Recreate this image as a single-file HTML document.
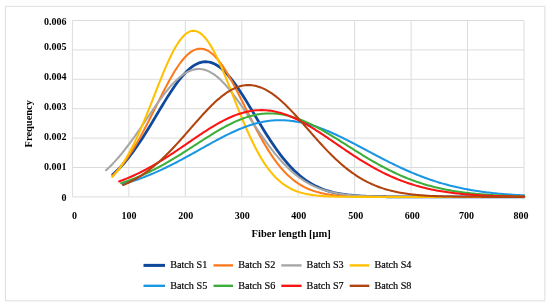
<!DOCTYPE html>
<html><head><meta charset="utf-8"><title>Fiber length distribution</title>
<style>html,body{margin:0;padding:0;background:#fff}body{width:550px;height:306px;position:relative;overflow:hidden}</style>
</head><body>
<svg width="550" height="306" viewBox="0 0 550 306" style="position:absolute;left:0;top:0">
<rect x="5.45" y="6.35" width="539.4" height="294.5" fill="#fff" stroke="#dedede" stroke-width="1"/>
<path d="M72.40,20.50V196.90M128.85,20.50V196.90M185.30,20.50V196.90M241.75,20.50V196.90M298.20,20.50V196.90M354.65,20.50V196.90M411.10,20.50V196.90M467.55,20.50V196.90M524.00,20.50V196.90M72.40,196.90H524.00M72.40,167.50H524.00M72.40,138.10H524.00M72.40,108.70H524.00M72.40,79.30H524.00M72.40,49.90H524.00M72.40,20.50H524.00" stroke="#dcdcdc" stroke-width="1" fill="none"/>
<path d="M112.76,174.46 L114.48,172.94 L116.19,171.34 L117.90,169.68 L119.62,167.93 L121.33,166.12 L123.04,164.23 L124.76,162.27 L126.47,160.23 L128.18,158.13 L129.90,155.95 L131.61,153.70 L133.32,151.39 L135.04,149.00 L136.75,146.56 L138.46,144.06 L140.18,141.50 L141.89,138.88 L143.60,136.22 L145.32,133.51 L147.03,130.76 L148.75,127.98 L150.46,125.17 L152.17,122.34 L153.89,119.49 L155.60,116.62 L157.31,113.76 L159.03,110.89 L160.74,108.04 L162.45,105.20 L164.17,102.39 L165.88,99.61 L167.59,96.87 L169.31,94.18 L171.02,91.55 L172.73,88.98 L174.45,86.49 L176.16,84.07 L177.87,81.75 L179.59,79.51 L181.30,77.39 L183.01,75.37 L184.73,73.47 L186.44,71.69 L188.16,70.04 L189.87,68.53 L191.58,67.16 L193.30,65.93 L195.01,64.85 L196.72,63.93 L198.44,63.16 L200.15,62.56 L201.86,62.12 L203.58,61.84 L205.29,61.72 L207.00,61.77 L208.72,61.99 L210.43,62.37 L212.14,62.91 L213.86,63.61 L215.57,64.48 L217.28,65.49 L219.00,66.66 L220.71,67.98 L222.43,69.44 L224.14,71.03 L225.85,72.76 L227.57,74.62 L229.28,76.59 L230.99,78.68 L232.71,80.87 L234.42,83.16 L236.13,85.54 L237.85,88.01 L239.56,90.55 L241.27,93.16 L242.99,95.83 L244.70,98.55 L246.41,101.31 L248.13,104.11 L249.84,106.94 L251.55,109.78 L253.27,112.65 L254.98,115.51 L256.70,118.38 L258.41,121.23 L260.12,124.08 L261.84,126.90 L263.55,129.69 L265.26,132.45 L266.98,135.18 L268.69,137.86 L270.40,140.49 L272.12,143.07 L273.83,145.60 L275.54,148.07 L277.26,150.47 L278.97,152.81 L280.68,155.09 L282.40,157.29 L284.11,159.43 L285.82,161.49 L287.54,163.48 L289.25,165.40 L290.96,167.24 L292.68,169.01 L294.39,170.71 L296.11,172.33 L297.82,173.88 L299.53,175.36 L301.25,176.77 L302.96,178.11 L304.67,179.38 L306.39,180.59 L308.10,181.73 L309.81,182.81 L311.53,183.82 L313.24,184.78 L314.95,185.69 L316.67,186.53 L318.38,187.33 L320.09,188.07 L321.81,188.77 L323.52,189.42 L325.23,190.03 L326.95,190.60 L328.66,191.12 L330.38,191.61 L332.09,192.07 L333.80,192.49 L335.52,192.87 L337.23,193.23 L338.94,193.56 L340.66,193.87 L342.37,194.15 L344.08,194.41 L345.80,194.64 L347.51,194.86 L349.22,195.06 L350.94,195.24 L352.65,195.40 L354.36,195.55 L356.08,195.69 L357.79,195.81 L359.50,195.92 L361.22,196.03 L362.93,196.12 L364.65,196.20 L366.36,196.28 L368.07,196.35 L369.79,196.41 L371.50,196.46 L373.21,196.51 L374.93,196.55 L376.64,196.59 L378.35,196.63 L380.07,196.66 L381.78,196.69 L383.49,196.71 L385.21,196.74 L386.92,196.76 L388.63,196.77 L390.35,196.79 L392.06,196.80 L393.77,196.82 L395.49,196.83 L397.20,196.84 L398.92,196.84 L400.63,196.85 L402.34,196.86 L404.06,196.86 L405.77,196.87 L407.48,196.87 L409.20,196.88 L410.91,196.88 L412.62,196.88 L414.34,196.88 L416.05,196.89 L417.76,196.89 L419.48,196.89 L421.19,196.89 L422.90,196.89 L424.62,196.89 L426.33,196.89 L428.04,196.90 L429.76,196.90 L431.47,196.90 L433.18,196.90 L434.90,196.90 L436.61,196.90 L438.33,196.90 L440.04,196.90 L441.75,196.90 L443.47,196.90 L445.18,196.90 L446.89,196.90 L448.61,196.90 L450.32,196.90 L452.03,196.90 L453.75,196.90 L455.46,196.90 L457.17,196.90 L458.89,196.90 L460.60,196.90 L462.31,196.90 L464.03,196.90 L465.74,196.90 L467.45,196.90 L469.17,196.90 L470.88,196.90 L472.60,196.90 L474.31,196.90 L476.02,196.90 L477.74,196.90 L479.45,196.90 L481.16,196.90 L482.88,196.90 L484.59,196.90 L486.30,196.90 L488.02,196.90 L489.73,196.90 L491.44,196.90 L493.16,196.90 L494.87,196.90 L496.58,196.90 L498.30,196.90 L500.01,196.90 L501.72,196.90 L503.44,196.90 L505.15,196.90 L506.87,196.90 L508.58,196.90 L510.29,196.90 L512.01,196.90 L513.72,196.90 L515.43,196.90 L517.15,196.90 L518.86,196.90 L520.57,196.90 L522.29,196.90 L524.00,196.90" stroke="#10499b" stroke-width="2.75" fill="none" stroke-linecap="round" stroke-linejoin="round"/>
<path d="M112.48,175.54 L114.19,173.88 L115.91,172.13 L117.62,170.29 L119.34,168.34 L121.05,166.31 L122.77,164.17 L124.48,161.94 L126.20,159.61 L127.91,157.18 L129.63,154.66 L131.34,152.04 L133.06,149.33 L134.77,146.53 L136.48,143.65 L138.20,140.68 L139.91,137.64 L141.63,134.52 L143.34,131.34 L145.06,128.09 L146.77,124.79 L148.49,121.45 L150.20,118.06 L151.92,114.65 L153.63,111.21 L155.35,107.76 L157.06,104.31 L158.78,100.87 L160.49,97.44 L162.20,94.05 L163.92,90.70 L165.63,87.39 L167.35,84.16 L169.06,80.99 L170.78,77.92 L172.49,74.94 L174.21,72.07 L175.92,69.33 L177.64,66.71 L179.35,64.24 L181.07,61.92 L182.78,59.76 L184.50,57.77 L186.21,55.96 L187.92,54.34 L189.64,52.91 L191.35,51.69 L193.07,50.66 L194.78,49.85 L196.50,49.25 L198.21,48.87 L199.93,48.70 L201.64,48.75 L203.36,49.03 L205.07,49.51 L206.79,50.22 L208.50,51.13 L210.22,52.25 L211.93,53.58 L213.64,55.10 L215.36,56.81 L217.07,58.71 L218.79,60.78 L220.50,63.02 L222.22,65.41 L223.93,67.95 L225.65,70.63 L227.36,73.44 L229.08,76.36 L230.79,79.39 L232.51,82.51 L234.22,85.71 L235.94,88.98 L237.65,92.30 L239.36,95.68 L241.08,99.09 L242.79,102.52 L244.51,105.97 L246.22,109.42 L247.94,112.87 L249.65,116.30 L251.37,119.70 L253.08,123.06 L254.80,126.39 L256.51,129.66 L258.23,132.88 L259.94,136.03 L261.66,139.11 L263.37,142.12 L265.09,145.05 L266.80,147.89 L268.51,150.65 L270.23,153.31 L271.94,155.88 L273.66,158.36 L275.37,160.74 L277.09,163.02 L278.80,165.21 L280.52,167.30 L282.23,169.29 L283.95,171.19 L285.66,172.99 L287.38,174.70 L289.09,176.31 L290.81,177.84 L292.52,179.28 L294.23,180.63 L295.95,181.90 L297.66,183.10 L299.38,184.22 L301.09,185.26 L302.81,186.23 L304.52,187.14 L306.24,187.98 L307.95,188.76 L309.67,189.49 L311.38,190.16 L313.10,190.78 L314.81,191.35 L316.53,191.87 L318.24,192.35 L319.95,192.79 L321.67,193.20 L323.38,193.57 L325.10,193.90 L326.81,194.21 L328.53,194.49 L330.24,194.74 L331.96,194.97 L333.67,195.18 L335.39,195.37 L337.10,195.54 L338.82,195.69 L340.53,195.83 L342.25,195.95 L343.96,196.06 L345.67,196.16 L347.39,196.24 L349.10,196.32 L350.82,196.39 L352.53,196.45 L354.25,196.51 L355.96,196.56 L357.68,196.60 L359.39,196.64 L361.11,196.67 L362.82,196.70 L364.54,196.73 L366.25,196.75 L367.97,196.77 L369.68,196.79 L371.39,196.80 L373.11,196.82 L374.82,196.83 L376.54,196.84 L378.25,196.85 L379.97,196.85 L381.68,196.86 L383.40,196.87 L385.11,196.87 L386.83,196.88 L388.54,196.88 L390.26,196.88 L391.97,196.89 L393.69,196.89 L395.40,196.89 L397.11,196.89 L398.83,196.89 L400.54,196.89 L402.26,196.89 L403.97,196.90 L405.69,196.90 L407.40,196.90 L409.12,196.90 L410.83,196.90 L412.55,196.90 L414.26,196.90 L415.98,196.90 L417.69,196.90 L419.41,196.90 L421.12,196.90 L422.83,196.90 L424.55,196.90 L426.26,196.90 L427.98,196.90 L429.69,196.90 L431.41,196.90 L433.12,196.90 L434.84,196.90 L436.55,196.90 L438.27,196.90 L439.98,196.90 L441.70,196.90 L443.41,196.90 L445.13,196.90 L446.84,196.90 L448.55,196.90 L450.27,196.90 L451.98,196.90 L453.70,196.90 L455.41,196.90 L457.13,196.90 L458.84,196.90 L460.56,196.90 L462.27,196.90 L463.99,196.90 L465.70,196.90 L467.42,196.90 L469.13,196.90 L470.85,196.90 L472.56,196.90 L474.27,196.90 L475.99,196.90 L477.70,196.90 L479.42,196.90 L481.13,196.90 L482.85,196.90 L484.56,196.90 L486.28,196.90 L487.99,196.90 L489.71,196.90 L491.42,196.90 L493.14,196.90 L494.85,196.90 L496.57,196.90 L498.28,196.90 L499.99,196.90 L501.71,196.90 L503.42,196.90 L505.14,196.90 L506.85,196.90 L508.57,196.90 L510.28,196.90 L512.00,196.90 L513.71,196.90 L515.43,196.90 L517.14,196.90 L518.86,196.90 L520.57,196.90 L522.29,196.90 L524.00,196.90" stroke="#fb7a1e" stroke-width="2.05" fill="none" stroke-linecap="round" stroke-linejoin="round"/>
<path d="M106.04,170.22 L107.79,168.62 L109.53,166.95 L111.27,165.23 L113.01,163.44 L114.75,161.58 L116.49,159.67 L118.23,157.70 L119.98,155.66 L121.72,153.57 L123.46,151.42 L125.20,149.22 L126.94,146.97 L128.68,144.67 L130.42,142.33 L132.17,139.94 L133.91,137.51 L135.65,135.05 L137.39,132.55 L139.13,130.03 L140.87,127.49 L142.62,124.93 L144.36,122.36 L146.10,119.79 L147.84,117.21 L149.58,114.63 L151.32,112.07 L153.06,109.53 L154.81,107.00 L156.55,104.51 L158.29,102.05 L160.03,99.64 L161.77,97.27 L163.51,94.96 L165.25,92.71 L167.00,90.52 L168.74,88.42 L170.48,86.39 L172.22,84.45 L173.96,82.60 L175.70,80.85 L177.44,79.20 L179.19,77.66 L180.93,76.23 L182.67,74.93 L184.41,73.74 L186.15,72.68 L187.89,71.75 L189.64,70.95 L191.38,70.28 L193.12,69.76 L194.86,69.37 L196.60,69.12 L198.34,69.01 L200.08,69.05 L201.83,69.23 L203.57,69.55 L205.31,70.02 L207.05,70.63 L208.79,71.37 L210.53,72.26 L212.27,73.28 L214.02,74.42 L215.76,75.70 L217.50,77.09 L219.24,78.61 L220.98,80.24 L222.72,81.97 L224.47,83.81 L226.21,85.74 L227.95,87.77 L229.69,89.88 L231.43,92.07 L233.17,94.32 L234.91,96.65 L236.66,99.03 L238.40,101.46 L240.14,103.94 L241.88,106.46 L243.62,109.00 L245.36,111.58 L247.10,114.17 L248.85,116.77 L250.59,119.38 L252.33,121.99 L254.07,124.59 L255.81,127.18 L257.55,129.75 L259.29,132.31 L261.04,134.83 L262.78,137.33 L264.52,139.79 L266.26,142.21 L268.00,144.58 L269.74,146.91 L271.49,149.19 L273.23,151.42 L274.97,153.59 L276.71,155.71 L278.45,157.76 L280.19,159.76 L281.93,161.69 L283.68,163.56 L285.42,165.37 L287.16,167.11 L288.90,168.79 L290.64,170.40 L292.38,171.95 L294.12,173.44 L295.87,174.86 L297.61,176.22 L299.35,177.52 L301.09,178.75 L302.83,179.93 L304.57,181.05 L306.31,182.11 L308.06,183.12 L309.80,184.07 L311.54,184.97 L313.28,185.82 L315.02,186.62 L316.76,187.37 L318.51,188.08 L320.25,188.75 L321.99,189.37 L323.73,189.95 L325.47,190.50 L327.21,191.01 L328.95,191.48 L330.70,191.92 L332.44,192.34 L334.18,192.72 L335.92,193.07 L337.66,193.40 L339.40,193.70 L341.14,193.98 L342.89,194.24 L344.63,194.48 L346.37,194.70 L348.11,194.90 L349.85,195.09 L351.59,195.26 L353.33,195.42 L355.08,195.56 L356.82,195.69 L358.56,195.81 L360.30,195.92 L362.04,196.01 L363.78,196.10 L365.53,196.19 L367.27,196.26 L369.01,196.33 L370.75,196.39 L372.49,196.44 L374.23,196.49 L375.97,196.53 L377.72,196.57 L379.46,196.61 L381.20,196.64 L382.94,196.67 L384.68,196.70 L386.42,196.72 L388.16,196.74 L389.91,196.76 L391.65,196.78 L393.39,196.79 L395.13,196.80 L396.87,196.82 L398.61,196.83 L400.35,196.83 L402.10,196.84 L403.84,196.85 L405.58,196.86 L407.32,196.86 L409.06,196.87 L410.80,196.87 L412.55,196.87 L414.29,196.88 L416.03,196.88 L417.77,196.88 L419.51,196.89 L421.25,196.89 L422.99,196.89 L424.74,196.89 L426.48,196.89 L428.22,196.89 L429.96,196.89 L431.70,196.89 L433.44,196.90 L435.18,196.90 L436.93,196.90 L438.67,196.90 L440.41,196.90 L442.15,196.90 L443.89,196.90 L445.63,196.90 L447.37,196.90 L449.12,196.90 L450.86,196.90 L452.60,196.90 L454.34,196.90 L456.08,196.90 L457.82,196.90 L459.57,196.90 L461.31,196.90 L463.05,196.90 L464.79,196.90 L466.53,196.90 L468.27,196.90 L470.01,196.90 L471.76,196.90 L473.50,196.90 L475.24,196.90 L476.98,196.90 L478.72,196.90 L480.46,196.90 L482.20,196.90 L483.95,196.90 L485.69,196.90 L487.43,196.90 L489.17,196.90 L490.91,196.90 L492.65,196.90 L494.39,196.90 L496.14,196.90 L497.88,196.90 L499.62,196.90 L501.36,196.90 L503.10,196.90 L504.84,196.90 L506.59,196.90 L508.33,196.90 L510.07,196.90 L511.81,196.90 L513.55,196.90 L515.29,196.90 L517.03,196.90 L518.78,196.90 L520.52,196.90 L522.26,196.90 L524.00,196.90" stroke="#a6a6a6" stroke-width="2.05" fill="none" stroke-linecap="round" stroke-linejoin="round"/>
<path d="M112.25,176.94 L113.97,175.09 L115.68,173.12 L117.40,171.02 L119.12,168.78 L120.83,166.41 L122.55,163.90 L124.26,161.25 L125.98,158.46 L127.69,155.53 L129.41,152.46 L131.13,149.25 L132.84,145.91 L134.56,142.44 L136.27,138.84 L137.99,135.12 L139.70,131.29 L141.42,127.35 L143.13,123.31 L144.85,119.18 L146.57,114.98 L148.28,110.72 L150.00,106.40 L151.71,102.05 L153.43,97.68 L155.14,93.30 L156.86,88.93 L158.58,84.59 L160.29,80.29 L162.01,76.06 L163.72,71.92 L165.44,67.87 L167.15,63.95 L168.87,60.16 L170.58,56.54 L172.30,53.09 L174.02,49.83 L175.73,46.78 L177.45,43.96 L179.16,41.38 L180.88,39.06 L182.59,37.00 L184.31,35.22 L186.02,33.73 L187.74,32.54 L189.46,31.65 L191.17,31.08 L192.89,30.81 L194.60,30.86 L196.32,31.21 L198.03,31.88 L199.75,32.85 L201.47,34.11 L203.18,35.67 L204.90,37.52 L206.61,39.63 L208.33,42.01 L210.04,44.64 L211.76,47.50 L213.47,50.58 L215.19,53.87 L216.91,57.34 L218.62,60.98 L220.34,64.78 L222.05,68.71 L223.77,72.75 L225.48,76.89 L227.20,81.11 L228.92,85.39 L230.63,89.71 L232.35,94.06 L234.06,98.41 L235.78,102.76 L237.49,107.08 L239.21,111.37 L240.92,115.60 L242.64,119.77 L244.36,123.86 L246.07,127.86 L247.79,131.76 L249.50,135.56 L251.22,139.25 L252.93,142.81 L254.65,146.25 L256.36,149.56 L258.08,152.74 L259.80,155.78 L261.51,158.68 L263.23,161.44 L264.94,164.07 L266.66,166.55 L268.37,168.90 L270.09,171.12 L271.81,173.21 L273.52,175.17 L275.24,177.00 L276.95,178.71 L278.67,180.31 L280.38,181.79 L282.10,183.17 L283.81,184.45 L285.53,185.62 L287.25,186.71 L288.96,187.71 L290.68,188.62 L292.39,189.46 L294.11,190.23 L295.82,190.93 L297.54,191.56 L299.26,192.14 L300.97,192.66 L302.69,193.13 L304.40,193.56 L306.12,193.94 L307.83,194.28 L309.55,194.59 L311.26,194.87 L312.98,195.12 L314.70,195.33 L316.41,195.53 L318.13,195.70 L319.84,195.86 L321.56,195.99 L323.27,196.11 L324.99,196.21 L326.70,196.31 L328.42,196.39 L330.14,196.46 L331.85,196.52 L333.57,196.57 L335.28,196.62 L337.00,196.66 L338.71,196.69 L340.43,196.72 L342.15,196.75 L343.86,196.77 L345.58,196.79 L347.29,196.81 L349.01,196.82 L350.72,196.84 L352.44,196.85 L354.15,196.85 L355.87,196.86 L357.59,196.87 L359.30,196.87 L361.02,196.88 L362.73,196.88 L364.45,196.88 L366.16,196.89 L367.88,196.89 L369.60,196.89 L371.31,196.89 L373.03,196.89 L374.74,196.90 L376.46,196.90 L378.17,196.90 L379.89,196.90 L381.60,196.90 L383.32,196.90 L385.04,196.90 L386.75,196.90 L388.47,196.90 L390.18,196.90 L391.90,196.90 L393.61,196.90 L395.33,196.90 L397.04,196.90 L398.76,196.90 L400.48,196.90 L402.19,196.90 L403.91,196.90 L405.62,196.90 L407.34,196.90 L409.05,196.90 L410.77,196.90 L412.49,196.90 L414.20,196.90 L415.92,196.90 L417.63,196.90 L419.35,196.90 L421.06,196.90 L422.78,196.90 L424.49,196.90 L426.21,196.90 L427.93,196.90 L429.64,196.90 L431.36,196.90 L433.07,196.90 L434.79,196.90 L436.50,196.90 L438.22,196.90 L439.94,196.90 L441.65,196.90 L443.37,196.90 L445.08,196.90 L446.80,196.90 L448.51,196.90 L450.23,196.90 L451.94,196.90 L453.66,196.90 L455.38,196.90 L457.09,196.90 L458.81,196.90 L460.52,196.90 L462.24,196.90 L463.95,196.90 L465.67,196.90 L467.38,196.90 L469.10,196.90 L470.82,196.90 L472.53,196.90 L474.25,196.90 L475.96,196.90 L477.68,196.90 L479.39,196.90 L481.11,196.90 L482.83,196.90 L484.54,196.90 L486.26,196.90 L487.97,196.90 L489.69,196.90 L491.40,196.90 L493.12,196.90 L494.83,196.90 L496.55,196.90 L498.27,196.90 L499.98,196.90 L501.70,196.90 L503.41,196.90 L505.13,196.90 L506.84,196.90 L508.56,196.90 L510.28,196.90 L511.99,196.90 L513.71,196.90 L515.42,196.90 L517.14,196.90 L518.85,196.90 L520.57,196.90 L522.28,196.90 L524.00,196.90" stroke="#ffc000" stroke-width="2.05" fill="none" stroke-linecap="round" stroke-linejoin="round"/>
<path d="M122.64,184.19 L124.31,183.72 L125.99,183.23 L127.66,182.73 L129.33,182.21 L131.00,181.69 L132.67,181.14 L134.35,180.59 L136.02,180.02 L137.69,179.44 L139.36,178.85 L141.04,178.24 L142.71,177.61 L144.38,176.98 L146.05,176.33 L147.73,175.66 L149.40,174.99 L151.07,174.30 L152.74,173.59 L154.41,172.88 L156.09,172.15 L157.76,171.41 L159.43,170.65 L161.10,169.88 L162.78,169.11 L164.45,168.31 L166.12,167.51 L167.79,166.70 L169.47,165.87 L171.14,165.04 L172.81,164.19 L174.48,163.33 L176.16,162.47 L177.83,161.59 L179.50,160.71 L181.17,159.82 L182.84,158.92 L184.52,158.02 L186.19,157.11 L187.86,156.19 L189.53,155.27 L191.21,154.34 L192.88,153.41 L194.55,152.48 L196.22,151.54 L197.90,150.60 L199.57,149.66 L201.24,148.72 L202.91,147.78 L204.58,146.85 L206.26,145.91 L207.93,144.98 L209.60,144.05 L211.27,143.13 L212.95,142.21 L214.62,141.30 L216.29,140.40 L217.96,139.50 L219.64,138.62 L221.31,137.74 L222.98,136.88 L224.65,136.02 L226.33,135.19 L228.00,134.36 L229.67,133.55 L231.34,132.75 L233.01,131.98 L234.69,131.21 L236.36,130.47 L238.03,129.75 L239.70,129.05 L241.38,128.37 L243.05,127.71 L244.72,127.07 L246.39,126.46 L248.07,125.87 L249.74,125.31 L251.41,124.77 L253.08,124.26 L254.75,123.77 L256.43,123.32 L258.10,122.89 L259.77,122.50 L261.44,122.13 L263.12,121.79 L264.79,121.49 L266.46,121.21 L268.13,120.97 L269.81,120.76 L271.48,120.58 L273.15,120.44 L274.82,120.33 L276.49,120.25 L278.17,120.21 L279.84,120.20 L281.51,120.22 L283.18,120.26 L284.86,120.34 L286.53,120.44 L288.20,120.57 L289.87,120.73 L291.55,120.92 L293.22,121.14 L294.89,121.38 L296.56,121.65 L298.24,121.94 L299.91,122.26 L301.58,122.61 L303.25,122.98 L304.92,123.38 L306.60,123.81 L308.27,124.25 L309.94,124.72 L311.61,125.22 L313.29,125.74 L314.96,126.27 L316.63,126.84 L318.30,127.42 L319.98,128.02 L321.65,128.64 L323.32,129.29 L324.99,129.95 L326.66,130.62 L328.34,131.32 L330.01,132.03 L331.68,132.76 L333.35,133.50 L335.03,134.26 L336.70,135.03 L338.37,135.82 L340.04,136.61 L341.72,137.42 L343.39,138.24 L345.06,139.07 L346.73,139.91 L348.41,140.75 L350.08,141.61 L351.75,142.47 L353.42,143.33 L355.09,144.21 L356.77,145.09 L358.44,145.97 L360.11,146.85 L361.78,147.74 L363.46,148.63 L365.13,149.52 L366.80,150.41 L368.47,151.31 L370.15,152.20 L371.82,153.09 L373.49,153.98 L375.16,154.86 L376.83,155.74 L378.51,156.62 L380.18,157.50 L381.85,158.37 L383.52,159.23 L385.20,160.09 L386.87,160.94 L388.54,161.79 L390.21,162.62 L391.89,163.45 L393.56,164.28 L395.23,165.09 L396.90,165.89 L398.58,166.69 L400.25,167.48 L401.92,168.25 L403.59,169.02 L405.26,169.77 L406.94,170.52 L408.61,171.25 L410.28,171.97 L411.95,172.68 L413.63,173.38 L415.30,174.07 L416.97,174.75 L418.64,175.41 L420.32,176.06 L421.99,176.70 L423.66,177.33 L425.33,177.94 L427.00,178.54 L428.68,179.13 L430.35,179.71 L432.02,180.27 L433.69,180.82 L435.37,181.36 L437.04,181.89 L438.71,182.40 L440.38,182.90 L442.06,183.39 L443.73,183.87 L445.40,184.33 L447.07,184.78 L448.75,185.23 L450.42,185.65 L452.09,186.07 L453.76,186.48 L455.43,186.87 L457.11,187.25 L458.78,187.62 L460.45,187.98 L462.12,188.33 L463.80,188.67 L465.47,189.00 L467.14,189.32 L468.81,189.62 L470.49,189.92 L472.16,190.21 L473.83,190.49 L475.50,190.76 L477.17,191.02 L478.85,191.27 L480.52,191.51 L482.19,191.75 L483.86,191.97 L485.54,192.19 L487.21,192.40 L488.88,192.60 L490.55,192.79 L492.23,192.98 L493.90,193.16 L495.57,193.33 L497.24,193.50 L498.92,193.66 L500.59,193.81 L502.26,193.96 L503.93,194.10 L505.60,194.24 L507.28,194.37 L508.95,194.49 L510.62,194.61 L512.29,194.72 L513.97,194.83 L515.64,194.94 L517.31,195.04 L518.98,195.13 L520.66,195.22 L522.33,195.31 L524.00,195.39" stroke="#1b96e2" stroke-width="2.05" fill="none" stroke-linecap="round" stroke-linejoin="round"/>
<path d="M121.12,183.18 L122.80,182.64 L124.47,182.08 L126.15,181.51 L127.83,180.92 L129.51,180.32 L131.19,179.70 L132.87,179.06 L134.55,178.40 L136.22,177.73 L137.90,177.05 L139.58,176.34 L141.26,175.62 L142.94,174.89 L144.62,174.13 L146.30,173.36 L147.98,172.58 L149.65,171.77 L151.33,170.95 L153.01,170.12 L154.69,169.27 L156.37,168.40 L158.05,167.52 L159.73,166.62 L161.40,165.71 L163.08,164.78 L164.76,163.84 L166.44,162.89 L168.12,161.92 L169.80,160.94 L171.48,159.95 L173.16,158.95 L174.83,157.94 L176.51,156.91 L178.19,155.88 L179.87,154.84 L181.55,153.78 L183.23,152.73 L184.91,151.66 L186.58,150.59 L188.26,149.51 L189.94,148.43 L191.62,147.35 L193.30,146.26 L194.98,145.18 L196.66,144.09 L198.34,143.00 L200.01,141.92 L201.69,140.84 L203.37,139.76 L205.05,138.69 L206.73,137.62 L208.41,136.56 L210.09,135.51 L211.77,134.47 L213.44,133.45 L215.12,132.43 L216.80,131.43 L218.48,130.44 L220.16,129.47 L221.84,128.51 L223.52,127.58 L225.19,126.66 L226.87,125.77 L228.55,124.89 L230.23,124.04 L231.91,123.22 L233.59,122.42 L235.27,121.65 L236.95,120.91 L238.62,120.19 L240.30,119.51 L241.98,118.86 L243.66,118.24 L245.34,117.65 L247.02,117.10 L248.70,116.58 L250.37,116.10 L252.05,115.66 L253.73,115.25 L255.41,114.88 L257.09,114.56 L258.77,114.27 L260.45,114.02 L262.13,113.82 L263.80,113.65 L265.48,113.53 L267.16,113.45 L268.84,113.41 L270.52,113.41 L272.20,113.45 L273.88,113.53 L275.56,113.65 L277.23,113.81 L278.91,114.00 L280.59,114.23 L282.27,114.50 L283.95,114.81 L285.63,115.15 L287.31,115.53 L288.98,115.94 L290.66,116.39 L292.34,116.87 L294.02,117.38 L295.70,117.93 L297.38,118.50 L299.06,119.11 L300.74,119.75 L302.41,120.42 L304.09,121.11 L305.77,121.84 L307.45,122.59 L309.13,123.36 L310.81,124.16 L312.49,124.99 L314.16,125.83 L315.84,126.70 L317.52,127.59 L319.20,128.49 L320.88,129.42 L322.56,130.36 L324.24,131.32 L325.92,132.29 L327.59,133.27 L329.27,134.27 L330.95,135.28 L332.63,136.30 L334.31,137.33 L335.99,138.37 L337.67,139.42 L339.34,140.47 L341.02,141.52 L342.70,142.58 L344.38,143.65 L346.06,144.71 L347.74,145.78 L349.42,146.84 L351.10,147.91 L352.77,148.97 L354.45,150.03 L356.13,151.09 L357.81,152.14 L359.49,153.18 L361.17,154.22 L362.85,155.26 L364.53,156.28 L366.20,157.30 L367.88,158.31 L369.56,159.31 L371.24,160.30 L372.92,161.28 L374.60,162.24 L376.28,163.20 L377.95,164.14 L379.63,165.07 L381.31,165.99 L382.99,166.89 L384.67,167.78 L386.35,168.65 L388.03,169.51 L389.71,170.36 L391.38,171.18 L393.06,172.00 L394.74,172.80 L396.42,173.58 L398.10,174.35 L399.78,175.10 L401.46,175.83 L403.13,176.55 L404.81,177.25 L406.49,177.93 L408.17,178.60 L409.85,179.26 L411.53,179.89 L413.21,180.51 L414.89,181.12 L416.56,181.71 L418.24,182.28 L419.92,182.83 L421.60,183.38 L423.28,183.90 L424.96,184.41 L426.64,184.91 L428.32,185.39 L429.99,185.85 L431.67,186.30 L433.35,186.74 L435.03,187.16 L436.71,187.57 L438.39,187.97 L440.07,188.35 L441.74,188.72 L443.42,189.07 L445.10,189.42 L446.78,189.75 L448.46,190.07 L450.14,190.38 L451.82,190.67 L453.50,190.96 L455.17,191.23 L456.85,191.50 L458.53,191.75 L460.21,191.99 L461.89,192.23 L463.57,192.45 L465.25,192.67 L466.92,192.88 L468.60,193.07 L470.28,193.26 L471.96,193.45 L473.64,193.62 L475.32,193.79 L477.00,193.95 L478.68,194.10 L480.35,194.24 L482.03,194.38 L483.71,194.51 L485.39,194.64 L487.07,194.76 L488.75,194.88 L490.43,194.99 L492.11,195.09 L493.78,195.19 L495.46,195.28 L497.14,195.37 L498.82,195.46 L500.50,195.54 L502.18,195.62 L503.86,195.69 L505.53,195.76 L507.21,195.83 L508.89,195.89 L510.57,195.95 L512.25,196.00 L513.93,196.06 L515.61,196.11 L517.29,196.15 L518.96,196.20 L520.64,196.24 L522.32,196.28 L524.00,196.32" stroke="#3aae38" stroke-width="2.05" fill="none" stroke-linecap="round" stroke-linejoin="round"/>
<path d="M119.14,181.43 L120.83,180.81 L122.51,180.17 L124.20,179.52 L125.89,178.84 L127.58,178.15 L129.26,177.45 L130.95,176.72 L132.64,175.97 L134.32,175.21 L136.01,174.43 L137.70,173.63 L139.38,172.81 L141.07,171.97 L142.76,171.12 L144.44,170.24 L146.13,169.35 L147.82,168.45 L149.51,167.52 L151.19,166.58 L152.88,165.62 L154.57,164.65 L156.25,163.66 L157.94,162.66 L159.63,161.64 L161.31,160.60 L163.00,159.56 L164.69,158.50 L166.37,157.42 L168.06,156.34 L169.75,155.25 L171.43,154.14 L173.12,153.03 L174.81,151.90 L176.50,150.77 L178.18,149.63 L179.87,148.49 L181.56,147.34 L183.24,146.19 L184.93,145.03 L186.62,143.87 L188.30,142.72 L189.99,141.56 L191.68,140.40 L193.36,139.25 L195.05,138.10 L196.74,136.96 L198.43,135.82 L200.11,134.69 L201.80,133.57 L203.49,132.46 L205.17,131.36 L206.86,130.28 L208.55,129.21 L210.23,128.15 L211.92,127.12 L213.61,126.10 L215.29,125.10 L216.98,124.12 L218.67,123.17 L220.36,122.24 L222.04,121.34 L223.73,120.46 L225.42,119.61 L227.10,118.79 L228.79,118.00 L230.48,117.24 L232.16,116.51 L233.85,115.82 L235.54,115.16 L237.22,114.54 L238.91,113.96 L240.60,113.41 L242.29,112.90 L243.97,112.44 L245.66,112.01 L247.35,111.63 L249.03,111.28 L250.72,110.98 L252.41,110.73 L254.09,110.52 L255.78,110.35 L257.47,110.22 L259.15,110.15 L260.84,110.11 L262.53,110.12 L264.22,110.18 L265.90,110.28 L267.59,110.42 L269.28,110.61 L270.96,110.84 L272.65,111.11 L274.34,111.43 L276.02,111.79 L277.71,112.18 L279.40,112.62 L281.08,113.10 L282.77,113.61 L284.46,114.17 L286.15,114.76 L287.83,115.39 L289.52,116.05 L291.21,116.75 L292.89,117.48 L294.58,118.24 L296.27,119.04 L297.95,119.86 L299.64,120.71 L301.33,121.59 L303.01,122.50 L304.70,123.43 L306.39,124.38 L308.07,125.36 L309.76,126.36 L311.45,127.38 L313.14,128.42 L314.82,129.47 L316.51,130.54 L318.20,131.62 L319.88,132.72 L321.57,133.83 L323.26,134.95 L324.94,136.08 L326.63,137.22 L328.32,138.36 L330.00,139.51 L331.69,140.66 L333.38,141.82 L335.07,142.98 L336.75,144.14 L338.44,145.30 L340.13,146.45 L341.81,147.61 L343.50,148.76 L345.19,149.90 L346.87,151.04 L348.56,152.18 L350.25,153.30 L351.93,154.42 L353.62,155.53 L355.31,156.63 L357.00,157.71 L358.68,158.79 L360.37,159.85 L362.06,160.90 L363.74,161.94 L365.43,162.96 L367.12,163.97 L368.80,164.96 L370.49,165.93 L372.18,166.89 L373.86,167.84 L375.55,168.76 L377.24,169.67 L378.93,170.57 L380.61,171.44 L382.30,172.30 L383.99,173.14 L385.67,173.96 L387.36,174.76 L389.05,175.54 L390.73,176.31 L392.42,177.06 L394.11,177.78 L395.79,178.49 L397.48,179.18 L399.17,179.86 L400.86,180.51 L402.54,181.15 L404.23,181.77 L405.92,182.37 L407.60,182.95 L409.29,183.52 L410.98,184.07 L412.66,184.60 L414.35,185.11 L416.04,185.61 L417.72,186.09 L419.41,186.56 L421.10,187.01 L422.79,187.44 L424.47,187.86 L426.16,188.26 L427.85,188.65 L429.53,189.03 L431.22,189.39 L432.91,189.74 L434.59,190.07 L436.28,190.40 L437.97,190.71 L439.65,191.00 L441.34,191.29 L443.03,191.56 L444.72,191.83 L446.40,192.08 L448.09,192.32 L449.78,192.55 L451.46,192.77 L453.15,192.98 L454.84,193.19 L456.52,193.38 L458.21,193.56 L459.90,193.74 L461.58,193.91 L463.27,194.07 L464.96,194.22 L466.64,194.37 L468.33,194.51 L470.02,194.64 L471.71,194.76 L473.39,194.88 L475.08,195.00 L476.77,195.11 L478.45,195.21 L480.14,195.31 L481.83,195.40 L483.51,195.49 L485.20,195.57 L486.89,195.65 L488.57,195.72 L490.26,195.79 L491.95,195.86 L493.64,195.92 L495.32,195.98 L497.01,196.04 L498.70,196.09 L500.38,196.14 L502.07,196.19 L503.76,196.23 L505.44,196.28 L507.13,196.32 L508.82,196.35 L510.50,196.39 L512.19,196.42 L513.88,196.45 L515.57,196.48 L517.25,196.51 L518.94,196.54 L520.63,196.56 L522.31,196.58 L524.00,196.60" stroke="#fb1414" stroke-width="2.05" fill="none" stroke-linecap="round" stroke-linejoin="round"/>
<path d="M123.21,185.03 L124.87,184.32 L126.54,183.58 L128.21,182.80 L129.88,181.99 L131.55,181.14 L133.22,180.26 L134.89,179.34 L136.56,178.38 L138.23,177.39 L139.90,176.36 L141.57,175.29 L143.24,174.18 L144.91,173.03 L146.58,171.85 L148.25,170.62 L149.92,169.36 L151.59,168.05 L153.26,166.71 L154.93,165.32 L156.60,163.90 L158.27,162.44 L159.94,160.95 L161.61,159.41 L163.28,157.85 L164.95,156.24 L166.62,154.60 L168.29,152.94 L169.96,151.24 L171.63,149.51 L173.30,147.75 L174.97,145.96 L176.64,144.16 L178.31,142.33 L179.98,140.48 L181.65,138.61 L183.32,136.73 L184.99,134.84 L186.66,132.93 L188.33,131.02 L190.00,129.10 L191.67,127.19 L193.34,125.27 L195.01,123.36 L196.68,121.46 L198.35,119.57 L200.02,117.70 L201.69,115.85 L203.36,114.01 L205.03,112.21 L206.70,110.43 L208.37,108.68 L210.04,106.97 L211.71,105.31 L213.38,103.68 L215.05,102.10 L216.72,100.58 L218.39,99.11 L220.06,97.69 L221.73,96.34 L223.40,95.05 L225.07,93.82 L226.74,92.67 L228.41,91.59 L230.08,90.58 L231.75,89.66 L233.42,88.81 L235.09,88.04 L236.76,87.36 L238.43,86.77 L240.10,86.26 L241.77,85.85 L243.44,85.52 L245.11,85.29 L246.78,85.14 L248.45,85.09 L250.12,85.13 L251.79,85.26 L253.46,85.48 L255.13,85.79 L256.80,86.18 L258.47,86.66 L260.14,87.22 L261.81,87.87 L263.48,88.60 L265.15,89.41 L266.82,90.30 L268.49,91.27 L270.16,92.31 L271.83,93.43 L273.50,94.61 L275.17,95.86 L276.84,97.17 L278.51,98.55 L280.18,99.98 L281.85,101.47 L283.52,103.01 L285.19,104.60 L286.86,106.23 L288.53,107.91 L290.20,109.62 L291.87,111.37 L293.54,113.15 L295.21,114.96 L296.88,116.80 L298.55,118.65 L300.22,120.52 L301.89,122.41 L303.56,124.31 L305.23,126.22 L306.90,128.13 L308.57,130.04 L310.24,131.95 L311.91,133.86 L313.58,135.75 L315.25,137.64 L316.92,139.52 L318.59,141.38 L320.26,143.22 L321.93,145.05 L323.60,146.85 L325.27,148.63 L326.94,150.38 L328.61,152.10 L330.28,153.79 L331.95,155.46 L333.62,157.09 L335.29,158.68 L336.96,160.25 L338.63,161.77 L340.30,163.26 L341.97,164.71 L343.64,166.13 L345.31,167.50 L346.98,168.84 L348.65,170.13 L350.32,171.39 L351.99,172.61 L353.66,173.78 L355.33,174.92 L357.00,176.02 L358.67,177.08 L360.34,178.10 L362.01,179.08 L363.68,180.02 L365.35,180.93 L367.02,181.80 L368.69,182.64 L370.36,183.43 L372.03,184.20 L373.70,184.93 L375.37,185.63 L377.04,186.29 L378.71,186.93 L380.38,187.53 L382.05,188.10 L383.72,188.65 L385.39,189.17 L387.06,189.66 L388.73,190.12 L390.40,190.56 L392.07,190.98 L393.74,191.37 L395.41,191.74 L397.08,192.09 L398.75,192.42 L400.42,192.73 L402.09,193.03 L403.76,193.30 L405.43,193.56 L407.10,193.80 L408.77,194.03 L410.44,194.24 L412.11,194.44 L413.78,194.62 L415.45,194.80 L417.12,194.96 L418.79,195.11 L420.46,195.25 L422.13,195.38 L423.80,195.50 L425.47,195.61 L427.14,195.72 L428.81,195.81 L430.48,195.90 L432.15,195.99 L433.82,196.06 L435.49,196.13 L437.16,196.20 L438.83,196.26 L440.50,196.32 L442.17,196.37 L443.84,196.41 L445.51,196.46 L447.18,196.50 L448.85,196.53 L450.52,196.57 L452.19,196.60 L453.86,196.63 L455.53,196.65 L457.20,196.68 L458.87,196.70 L460.54,196.72 L462.21,196.73 L463.88,196.75 L465.55,196.76 L467.22,196.78 L468.89,196.79 L470.56,196.80 L472.23,196.81 L473.90,196.82 L475.57,196.83 L477.24,196.84 L478.91,196.84 L480.58,196.85 L482.25,196.85 L483.92,196.86 L485.59,196.86 L487.26,196.87 L488.93,196.87 L490.60,196.87 L492.27,196.88 L493.94,196.88 L495.61,196.88 L497.28,196.88 L498.95,196.89 L500.62,196.89 L502.29,196.89 L503.96,196.89 L505.63,196.89 L507.30,196.89 L508.97,196.89 L510.64,196.89 L512.31,196.89 L513.98,196.90 L515.65,196.90 L517.32,196.90 L518.99,196.90 L520.66,196.90 L522.33,196.90 L524.00,196.90" stroke="#b0440e" stroke-width="2.05" fill="none" stroke-linecap="round" stroke-linejoin="round"/>
<g font-family="'Liberation Serif', serif" font-weight="bold" font-size="10" fill="#000">
<text x="66.6" y="200.50" text-anchor="end">0</text>
<text x="66.6" y="170.10" text-anchor="end">0.001</text>
<text x="66.6" y="140.10" text-anchor="end">0.002</text>
<text x="66.6" y="110.10" text-anchor="end">0.003</text>
<text x="66.6" y="80.20" text-anchor="end">0.004</text>
<text x="66.6" y="50.00" text-anchor="end">0.005</text>
<text x="66.6" y="24.70" text-anchor="end">0.006</text>
<text x="74.60" y="219.3" text-anchor="middle">0</text>
<text x="129.10" y="219.3" text-anchor="middle">100</text>
<text x="185.80" y="219.3" text-anchor="middle">200</text>
<text x="242.30" y="219.3" text-anchor="middle">300</text>
<text x="298.70" y="219.3" text-anchor="middle">400</text>
<text x="355.80" y="219.3" text-anchor="middle">500</text>
<text x="412.20" y="219.3" text-anchor="middle">600</text>
<text x="466.50" y="219.3" text-anchor="middle">700</text>
<text x="520.90" y="219.3" text-anchor="middle">800</text>
<text x="291.2" y="237" text-anchor="middle" font-size="10.5">Fiber length [μm]</text>
<text transform="translate(32.4,123.75) rotate(-90)" text-anchor="middle" font-size="10.45">Frequency</text>
</g>
<g font-family="'Liberation Serif', serif" font-size="10.2" fill="#000" stroke="#000" stroke-width="0.18">
<path d="M143.5,265.4H165.0" stroke="#10499b" stroke-width="3.05"/>
<text x="170.2" y="268.20">Batch S1</text>
<path d="M213.5,265.4H233.0" stroke="#fb7a1e" stroke-width="2.3499999999999996"/>
<text x="238.2" y="268.20">Batch S2</text>
<path d="M281.3,265.4H301.6" stroke="#a6a6a6" stroke-width="2.3499999999999996"/>
<text x="306.6" y="268.20">Batch S3</text>
<path d="M349.7,265.4H369.3" stroke="#ffc000" stroke-width="2.3499999999999996"/>
<text x="374.4" y="268.20">Batch S4</text>
<path d="M143.5,285.8H165.0" stroke="#1b96e2" stroke-width="2.3499999999999996"/>
<text x="170.2" y="288.60">Batch S5</text>
<path d="M213.5,285.8H233.0" stroke="#3aae38" stroke-width="2.3499999999999996"/>
<text x="238.2" y="288.60">Batch S6</text>
<path d="M281.3,285.8H301.6" stroke="#fb1414" stroke-width="2.3499999999999996"/>
<text x="306.6" y="288.60">Batch S7</text>
<path d="M349.7,285.8H369.3" stroke="#b0440e" stroke-width="2.3499999999999996"/>
<text x="374.4" y="288.60">Batch S8</text>
</g>
</svg>
</body></html>
